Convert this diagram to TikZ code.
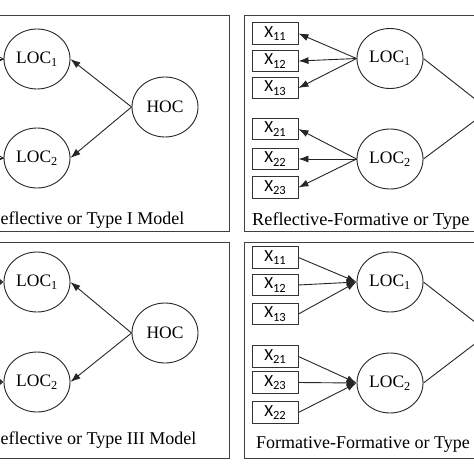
\documentclass[tikz,border=0pt]{standalone}
\usepackage{fontspec}
\setmainfont{Liberation Serif}
\newfontfamily\boxfont{Carlito}
\usetikzlibrary{shapes.geometric,arrows.meta}
\newcommand{\xlab}[1]{X\raisebox{-3.2pt}{\fontsize{12.5}{13}\selectfont #1}}
\begin{document}
\begin{tikzpicture}[x=1pt,y=-1pt,
 panel/.style={draw=black!75,line width=1pt},
 lv/.style={ellipse,draw=black!85,line width=0.9pt,minimum width=66pt,minimum height=60pt,inner sep=0pt,font=\fontsize{17.5}{18}\selectfont},
 ind/.style={rectangle,draw=black!80,line width=0.9pt,minimum width=46pt,minimum height=21.5pt,inner sep=0pt,font=\boxfont\fontsize{17}{18}\selectfont},
 arr/.style={-{Latex[length=10pt,width=7pt]},line width=0.9pt,draw=black!85},
 ln/.style={line width=0.9pt,draw=black!85},
 captxt/.style={font=\fontsize{18}{20}\selectfont,inner sep=0pt}]
\useasboundingbox (0,0) rectangle (474,474);
\fill[white] (0,0) rectangle (474,474);
% panels
\draw[panel] (-20,15) rectangle (229,231);
\draw[panel] (244,15) rectangle (500,231);
\draw[panel] (-20,242) rectangle (229,458);
\draw[panel] (244,242) rectangle (500,458);
% ---------- top left ----------
\node[lv] (aL1) at (37,59) {LOC\textsubscript{1}};
\node[lv] (aL2) at (37,158) {LOC\textsubscript{2}};
\node[lv] (aH) at (165,107) {HOC};
\draw[arr] (aH.west) -- (aL1.east);
\draw[arr] (aH.west) -- (aL2.east);
\coordinate (aa1) at (-60,30);
\coordinate (aa2) at (-60,59);
\coordinate (aa3) at (-60,88);
\coordinate (ab1) at (-60,129);
\coordinate (ab2) at (-60,158);
\coordinate (ab3) at (-60,187);
\foreach \c in {aa1,aa2,aa3} \draw[ln] (aL1.west) -- (\c);
\foreach \c in {ab1,ab2,ab3} \draw[ln] (aL2.west) -- (\c);
\node[captxt,anchor=base west] (capA) at (0.5,224) {eflective or Type I Model};
% ---------- top right ----------
\node[lv] (bL1) at (390,58.5) {LOC\textsubscript{1}};
\node[lv] (bL2) at (390,159) {LOC\textsubscript{2}};
\node[ind] (bx11) at (275,33.5) {\xlab{11}};
\node[ind] (bx12) at (275,61) {\xlab{12}};
\node[ind] (bx13) at (275,88) {\xlab{13}};
\node[ind] (bx21) at (275,129) {\xlab{21}};
\node[ind] (bx22) at (275,159) {\xlab{22}};
\node[ind] (bx23) at (275,187.5) {\xlab{23}};
\foreach \c in {bx11,bx12,bx13} \draw[arr] (bL1.west) -- (\c.east);
\foreach \c in {bx21,bx22,bx23} \draw[arr] (bL2.west) -- (\c.east);
\coordinate (bH) at (489,110);
\draw[arr] (bL1.east) -- (bH);
\draw[arr] (bL2.east) -- (bH);
\node[captxt,anchor=base west,font=\fontsize{18.3}{20}\selectfont] (capB) at (252,225) {Reflective-Formative or Type};
% ---------- bottom left ----------
\node[lv] (cL1) at (37,282) {LOC\textsubscript{1}};
\node[lv] (cL2) at (37,382) {LOC\textsubscript{2}};
\node[lv] (cH) at (165,333) {HOC};
\draw[arr] (cH.west) -- (cL1.east);
\draw[arr] (cH.west) -- (cL2.east);
\coordinate (ca1) at (-60,253);
\coordinate (ca2) at (-60,282);
\coordinate (ca3) at (-60,311);
\coordinate (cb1) at (-60,353);
\coordinate (cb2) at (-60,382);
\coordinate (cb3) at (-60,411);
\foreach \c in {ca1,ca2,ca3} \draw[arr] (\c) -- (cL1.west);
\foreach \c in {cb1,cb2,cb3} \draw[arr] (\c) -- (cL2.west);
\node[captxt,anchor=base west] (capC) at (0.5,444) {eflective or Type III Model};
% ---------- bottom right ----------
\node[lv] (dL1) at (390,282) {LOC\textsubscript{1}};
\node[lv] (dL2) at (390,383) {LOC\textsubscript{2}};
\node[ind] (dx11) at (275,257.5) {\xlab{11}};
\node[ind] (dx12) at (275,285) {\xlab{12}};
\node[ind] (dx13) at (275,314) {\xlab{13}};
\node[ind] (dx21) at (275,356.5) {\xlab{21}};
\node[ind] (dx23) at (275,382.5) {\xlab{23}};
\node[ind] (dx22) at (275,412.5) {\xlab{22}};
\foreach \c in {dx11,dx12,dx13} \draw[arr] (\c.east) -- (dL1.west);
\foreach \c in {dx21,dx23,dx22} \draw[arr] (\c.east) -- (dL2.west);
\coordinate (dH) at (489,333);
\draw[arr] (dL1.east) -- (dH);
\draw[arr] (dL2.east) -- (dH);
\node[captxt,anchor=base west,font=\fontsize{18}{20}\selectfont] (capD) at (256,448) {Formative-Formative or Type};
\end{tikzpicture}
\end{document}
